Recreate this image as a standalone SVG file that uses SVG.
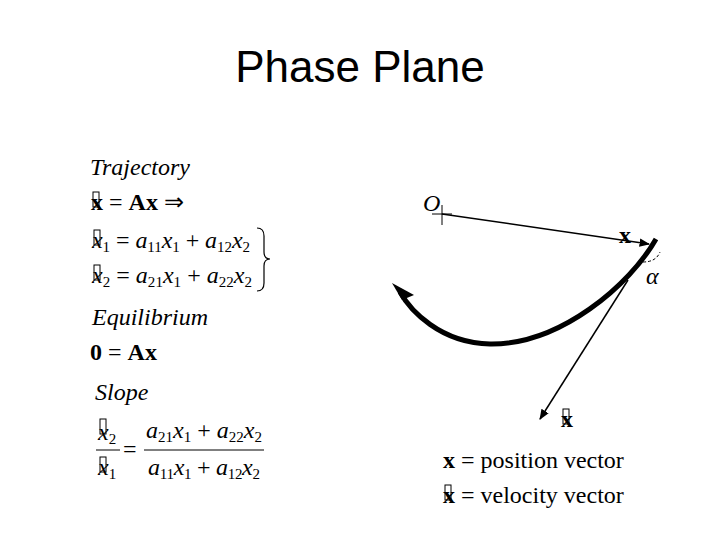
<svg xmlns="http://www.w3.org/2000/svg" width="720" height="540" viewBox="0 0 720 540">
<style>
.t{font-family:"Liberation Serif",serif;font-size:24px;fill:#000}
.i{font-style:italic}
.b{font-weight:bold}
.s{font-size:15px}
.tofu{fill:none;stroke:#000;stroke-width:1}
.ln{stroke:#000;fill:none}
</style>
<defs>
<marker id="ah" viewBox="0 0 10 10" refX="9" refY="5" markerWidth="7" markerHeight="7" orient="auto"><path d="M0,1 L10,5 L0,9 z" fill="#000"/></marker>
</defs>
<rect width="720" height="540" fill="#fff"/>
<text x="360" y="82" text-anchor="middle" font-family="Liberation Sans,sans-serif" font-size="44">Phase Plane</text>
<g id="equations">
<text class="t i" x="90" y="175">Trajectory</text>
<rect class="tofu" x="93" y="192" width="6" height="15"/>
<text class="t b" x="91" y="210">x<tspan font-weight="normal"> = </tspan>Ax<tspan font-weight="normal"> ⇒</tspan></text>
<rect class="tofu" x="94" y="230" width="6" height="15"/>
<text class="t" x="92" y="248" textLength="158"><tspan class="i">x</tspan><tspan class="s" dy="4">1</tspan><tspan dy="-4"> = </tspan><tspan class="i">a</tspan><tspan class="s" dy="4">11</tspan><tspan class="i" dy="-4">x</tspan><tspan class="s" dy="4">1</tspan><tspan dy="-4"> + </tspan><tspan class="i">a</tspan><tspan class="s" dy="4">12</tspan><tspan class="i" dy="-4">x</tspan><tspan class="s" dy="4">2</tspan></text>
<rect class="tofu" x="94" y="265" width="6" height="15"/>
<text class="t" x="92" y="283" textLength="160"><tspan class="i">x</tspan><tspan class="s" dy="4">2</tspan><tspan dy="-4"> = </tspan><tspan class="i">a</tspan><tspan class="s" dy="4">21</tspan><tspan class="i" dy="-4">x</tspan><tspan class="s" dy="4">1</tspan><tspan dy="-4"> + </tspan><tspan class="i">a</tspan><tspan class="s" dy="4">22</tspan><tspan class="i" dy="-4">x</tspan><tspan class="s" dy="4">2</tspan></text>
<path class="ln" stroke-width="1.2" d="M257,228 Q264,228 264,236 L264,252 Q264,259 270,259 Q264,259 264,266 L264,283 Q264,291 257,291"/>
<text class="t i" x="92" y="325">Equilibrium</text>
<text class="t b" x="90" y="360">0<tspan font-weight="normal"> = </tspan>Ax</text>
<text class="t i" x="95" y="400">Slope</text>
<rect class="tofu" x="100" y="419" width="6" height="15"/>
<text class="t" x="98" y="440"><tspan class="i">x</tspan><tspan class="s" dy="4">2</tspan></text>
<line class="ln" x1="96" y1="450" x2="120" y2="450" stroke-width="1"/>
<rect class="tofu" x="100" y="457" width="6" height="15"/>
<text class="t" x="98" y="475"><tspan class="i">x</tspan><tspan class="s" dy="4">1</tspan></text>
<text class="t" x="123" y="457">=</text>
<text class="t" x="146" y="438" textLength="116"><tspan class="i">a</tspan><tspan class="s" dy="4">21</tspan><tspan class="i" dy="-4">x</tspan><tspan class="s" dy="4">1</tspan><tspan dy="-4"> + </tspan><tspan class="i">a</tspan><tspan class="s" dy="4">22</tspan><tspan class="i" dy="-4">x</tspan><tspan class="s" dy="4">2</tspan></text>
<line class="ln" x1="144" y1="450" x2="264" y2="450" stroke-width="1"/>
<text class="t" x="148" y="475" textLength="112"><tspan class="i">a</tspan><tspan class="s" dy="4">11</tspan><tspan class="i" dy="-4">x</tspan><tspan class="s" dy="4">1</tspan><tspan dy="-4"> + </tspan><tspan class="i">a</tspan><tspan class="s" dy="4">12</tspan><tspan class="i" dy="-4">x</tspan><tspan class="s" dy="4">2</tspan></text>
</g>
<g id="origin">
<text class="t i" x="423" y="211" font-size="28">O</text>
<line class="ln" x1="432" y1="214" x2="452" y2="214" stroke-width="1"/>
<line class="ln" x1="442" y1="205" x2="442" y2="225" stroke-width="1"/>
</g>
<g id="trajectory">
<path class="ln" stroke-width="5" d="M656,239 C630,285 560,345 490,344 C440,343 410,310 400,292"/>
<path d="M392,283 L414,295 L402,300 z" fill="#000"/>
</g>
<g id="connectors">
<line class="ln" x1="442" y1="214" x2="649" y2="244" stroke-width="1.5" marker-end="url(#ah)"/>
<line class="ln" x1="628" y1="280" x2="540" y2="419" stroke-width="1.5" marker-end="url(#ah)"/>
<path class="ln" stroke-width="1" stroke-dasharray="3,2" d="M643,262 Q656,262 660,252"/>
</g>
<g id="labels">
<text class="t b" x="619" y="243" font-size="20">x</text>
<text class="t i" x="646" y="284" font-size="26">α</text>
<rect class="tofu" x="563" y="409" width="6" height="15"/>
<text class="t b" x="561" y="427">x</text>
<text class="t" x="443" y="468"><tspan font-weight="bold">x</tspan> = position vector</text>
<rect class="tofu" x="445" y="485" width="6" height="15"/>
<text class="t" x="443" y="503"><tspan font-weight="bold">x</tspan> = velocity vector</text>
</g>
</svg>
